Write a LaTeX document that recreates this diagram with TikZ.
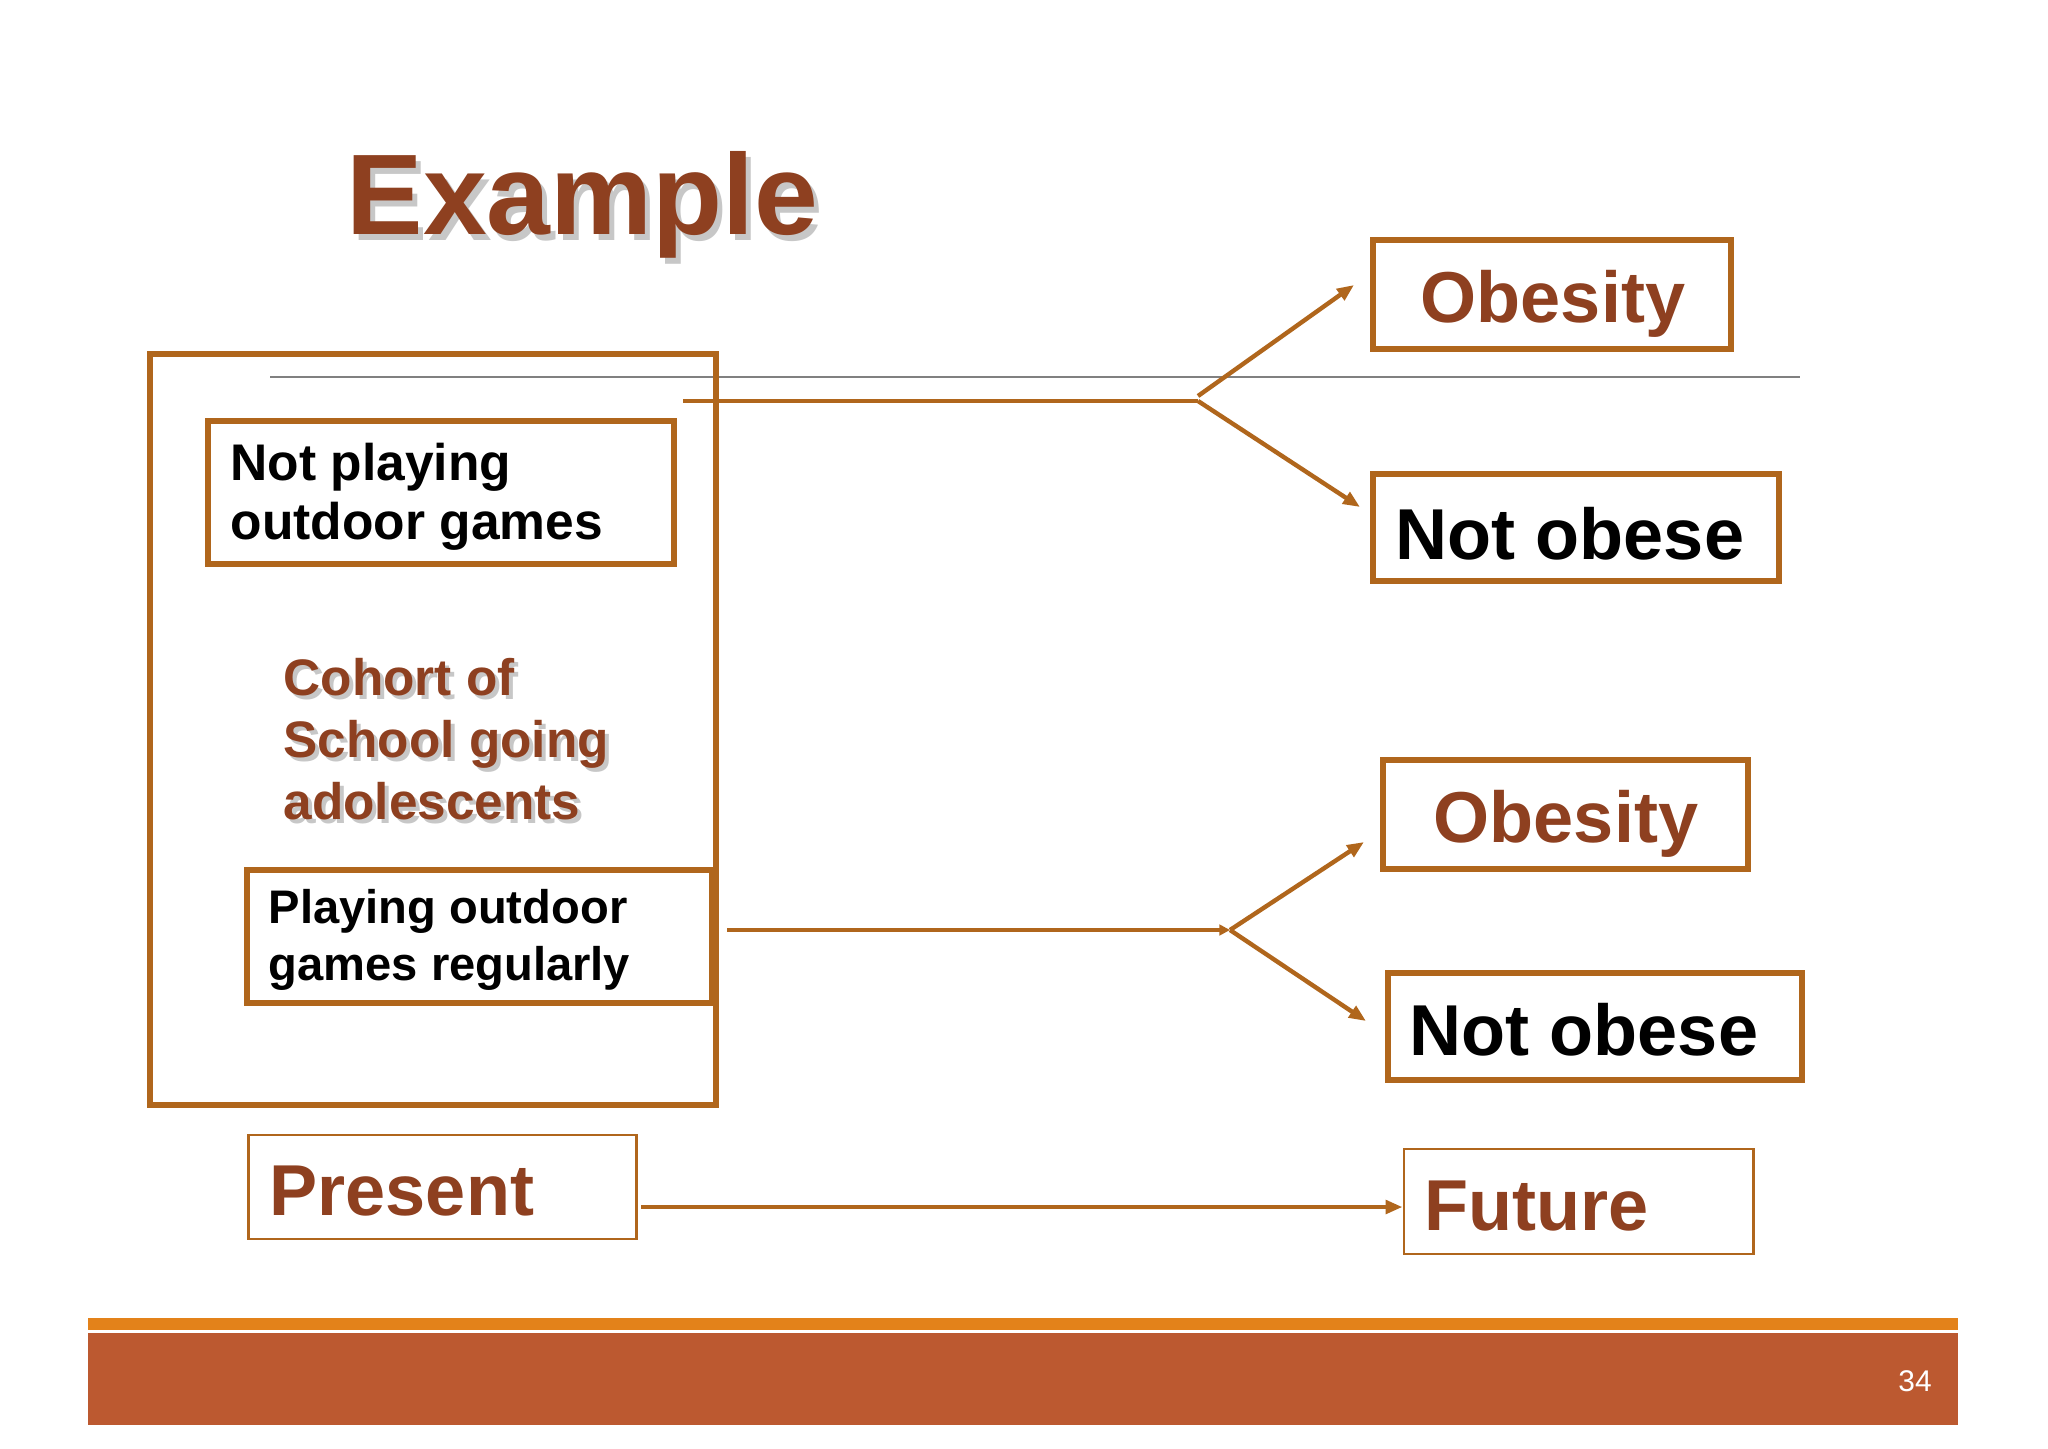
\documentclass[tikz,border=0pt]{standalone}
\usepackage{fontspec}
\setmainfont{Liberation Sans}
\usetikzlibrary{arrows.meta}
\definecolor{boxc}{RGB}{176,102,28}
\definecolor{titlec}{RGB}{142,64,32}
\definecolor{barorange}{RGB}{227,130,26}
\definecolor{barbrown}{RGB}{188,89,48}
\definecolor{rulegray}{RGB}{128,128,128}
\begin{document}
\begin{tikzpicture}[x=0.01cm,y=-0.01cm,
  frame/.style={draw=boxc,line width=1.6pt,inner sep=0pt},
  thinframe/.style={draw=boxc,line width=0.8pt,inner sep=0pt},
  conn/.style={draw=boxc,line width=1.25pt},
  arr/.style={conn,-{Triangle[length=4.8pt,width=3.8pt]}},
  txt/.style={inner sep=0pt,anchor=base west,align=left},
  bigtxt/.style={txt,font=\fontsize{20.5pt}{24pt}\selectfont\bfseries},
  shadow/.style={text=black!22},
]
\useasboundingbox (0,0) rectangle (2048,1448);
\fill[white] (0,0) rectangle (2048,1448);

% title
\node[txt,shadow,font=\fontsize{32.6pt}{36pt}\selectfont\bfseries] (titlesh) at (351,240) {Example};
\node[txt,text=titlec,font=\fontsize{32.6pt}{36pt}\selectfont\bfseries] (title) at (346,234) {Example};

% gray rule
\draw[rulegray,line width=0.7pt] (270,377) coordinate (gl) -- (1800,377) coordinate (gr);

% left side
\node[frame,minimum width=5.66cm,minimum height=7.51cm] (outer) at (433,729.5) {};
\node[frame,minimum width=4.66cm,minimum height=1.43cm] (np) at (441,492.5) {};
\node[txt,font=\fontsize{14.65pt}{16.5pt}\selectfont\bfseries] (nptxt) at (230,539) {Not playing\\outdoor games};

\node[txt,shadow,font=\fontsize{14.6pt}{17.5pt}\selectfont\bfseries] (cohsh) at (287,823) {Cohort of\\School going\\adolescents};
\node[txt,text=titlec,font=\fontsize{14.6pt}{17.5pt}\selectfont\bfseries] (coh) at (283,819) {Cohort of\\School going\\adolescents};

\node[frame,minimum width=4.65cm,minimum height=1.33cm] (po) at (479.5,936.5) {};
\node[txt,font=\fontsize{13.4pt}{16.2pt}\selectfont\bfseries] (potxt) at (268,980) {Playing outdoor\\games regularly};

\node[thinframe,minimum width=3.87cm,minimum height=1.04cm] (pres) at (442.5,1187) {};
\node[bigtxt,text=titlec] (prestxt) at (269,1215) {Present};

% right side
\node[frame,minimum width=3.58cm,minimum height=1.09cm] (ob1) at (1552,294.5) {};
\node[bigtxt,text=titlec] (ob1txt) at (1420,322) {Obesity};
\node[frame,minimum width=4.06cm,minimum height=1.07cm] (no1) at (1576,527.5) {};
\node[bigtxt] (no1txt) at (1395,559) {Not obese};
\node[frame,minimum width=3.65cm,minimum height=1.09cm] (ob2) at (1565.5,814.5) {};
\node[bigtxt,text=titlec] (ob2txt) at (1433,842) {Obesity};
\node[frame,minimum width=4.14cm,minimum height=1.07cm] (no2) at (1595,1026.5) {};
\node[bigtxt] (no2txt) at (1409,1055) {Not obese};
\node[thinframe,minimum width=3.49cm,minimum height=1.05cm] (fut) at (1578.5,1201.5) {};
\node[bigtxt,text=titlec] (futtxt) at (1424,1230) {Future};

% connectors
\coordinate (s1) at (683,401);
\coordinate (f1) at (1198,401);
\coordinate (f1u) at (1198,396);
\coordinate (t1a) at (1354,285);
\coordinate (t1b) at (1360,507);
\draw[conn] (s1) -- (f1);
\draw[arr] (f1u) -- (t1a);
\draw[arr] (f1) -- (t1b);

\coordinate (s2) at (727,930);
\coordinate (f2) at (1230,930);
\coordinate (t2a) at (1364,842);
\coordinate (t2b) at (1366,1021);
\draw[conn,-{Triangle[length=3pt,width=3pt]}] (s2) -- (f2);
\draw[arr] (f2) -- (t2a);
\draw[arr] (f2) -- (t2b);

\coordinate (pa) at (641,1207);
\draw[arr] (pa) -- (pa -| fut.west);

% footer
\fill[barorange] (88,1318) rectangle (1958,1330);
\fill[barbrown] (88,1333) rectangle (1958,1425);
\node[text=white,inner sep=0pt,font=\fontsize{8.5pt}{10pt}\selectfont] (pg) at (1915,1381) {34};
\end{tikzpicture}
\end{document}
